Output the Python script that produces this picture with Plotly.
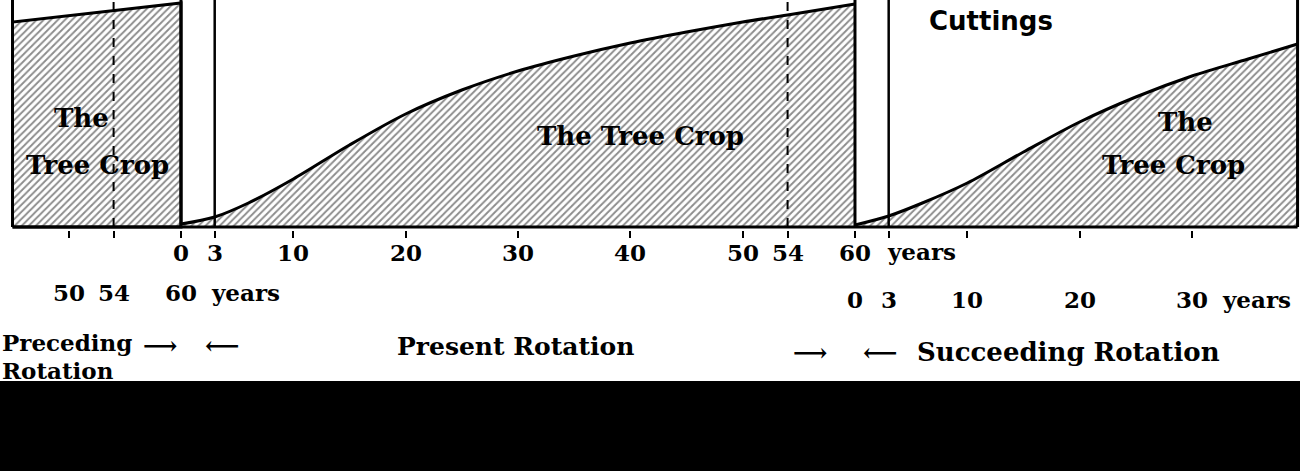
import plotly.graph_objects as go

# ---- data (growing stock, arbitrary units; ages in years) ----
present_ages = [0, 3, 6, 10, 15, 20, 25, 30, 35, 40, 45, 50, 54, 60]
present_stock = [3, 10, 24, 48, 82, 113, 137, 156, 171, 184, 195, 205, 212, 223]

preceding_ages = [45, 60]
preceding_stock = [205, 224]

succeeding_ages = [0, 3, 6, 10, 15, 20, 25, 30, 35, 39.4]
succeeding_stock = [2, 11, 24, 44, 75, 105, 130, 151, 168, 183]

rotation = 60
cut_age = 54          # dashed lines (cuttings)
plant_age = 3         # vertical lines at 3 years

present_ticks = [0, 3, 10, 20, 30, 40, 50, 54, 60]
preceding_ticks = [50, 54, 60]
succeeding_ticks = [0, 3, 10, 20, 30]

W, H = 1300, 471
TOP = 227
FONT = "DejaVu Serif"

def py(p):
    return 1 - p / H

# global x positions (present rotation time axis)
prec_x = [a - rotation for a in preceding_ages]
succ_x = [a + rotation for a in succeeding_ages]

fig = go.Figure()
hatch = dict(shape="/", size=5, solidity=0.38, fgcolor="#1a1a1a", bgcolor="white")
curve_line = dict(color="black", width=3, shape="spline", smoothing=0.9)

# preceding crop block
fig.add_trace(go.Scatter(
    x=[prec_x[0]] + prec_x + [prec_x[-1], prec_x[0]],
    y=[0] + preceding_stock + [0, 0],
    mode="lines", fill="toself", fillcolor="white", fillpattern=hatch,
    line=dict(color="black", width=3), hoverinfo="skip"))

# present rotation
fig.add_trace(go.Scatter(
    x=present_ages, y=present_stock, mode="lines",
    fill="tozeroy", fillcolor="white", fillpattern=hatch,
    line=curve_line, hoverinfo="skip"))

# succeeding rotation
fig.add_trace(go.Scatter(
    x=succ_x, y=succeeding_stock, mode="lines",
    fill="tozeroy", fillcolor="white", fillpattern=hatch,
    line=curve_line, hoverinfo="skip"))

shapes = []
# full-height solid verticals
for xv, w in [(prec_x[0], 3), (0, 3), (plant_age, 2.5), (rotation, 3),
              (rotation + plant_age, 2.5), (succ_x[-1], 3)]:
    shapes.append(dict(type="line", xref="x", yref="y", x0=xv, x1=xv, y0=0, y1=TOP + 2,
                       line=dict(color="black", width=w)))
# dashed cutting lines
for xv in [cut_age - rotation, cut_age]:
    shapes.append(dict(type="line", xref="x", yref="y", x0=xv, x1=xv, y0=0, y1=TOP + 2,
                       line=dict(color="black", width=2, dash="dash")))
# baseline
shapes.append(dict(type="line", xref="x", yref="y", x0=prec_x[0], x1=succ_x[-1], y0=0, y1=0,
                   line=dict(color="black", width=3)))
# black band at bottom
shapes.append(dict(type="rect", xref="paper", yref="paper", x0=0, x1=1, y0=0, y1=py(381),
                   fillcolor="black", line=dict(width=0), layer="above"))

ann = []
def txt(x, y, s, size=23, xanchor="center", xref="x", bold=True, family=FONT, xshift=0):
    ann.append(dict(x=x, y=py(y), xref=xref, yref="paper", text=("<b>%s</b>" % s) if bold else s,
                    showarrow=False, xanchor=xanchor, yanchor="middle", xshift=xshift,
                    font=dict(family=family, size=size, color="black")))

# row 1: present rotation ages
for t in present_ticks:
    txt(t, 252, str(t))
txt(rotation, 251, "years", xanchor="left", xshift=30)
# row 2 left: preceding rotation
for t in preceding_ticks:
    txt(t - rotation, 292, str(t))
txt(0, 292, "years", xanchor="left", xshift=28)
# row 2 right: succeeding rotation
for t in succeeding_ticks:
    txt(t + rotation, 299, str(t))
txt(succeeding_ticks[-1] + rotation, 299, "years", xanchor="left", xshift=28)

# rotation captions
txt(0, 342, "Preceding", size=23, xanchor="left", xref="paper")
txt(0, 370, "Rotation", size=23, xanchor="left", xref="paper")
txt(160 / W, 345, "⟶", size=24, xref="paper")
txt(222 / W, 345, "⟵", size=24, xref="paper")
txt(515 / W, 346, "Present Rotation", size=25, xref="paper")
txt(810 / W, 352, "⟶", size=24, xref="paper")
txt(880 / W, 352, "⟵", size=24, xref="paper")
txt(915 / W, 352, "Succeeding Rotation", size=26, xanchor="left", xref="paper")

# labels in the chart
txt(991 / W, 21, "Cuttings", size=26, xref="paper", family="DejaVu Sans")
txt(81 / W, 118, "The", size=26, xref="paper")
txt(97 / W, 165, "Tree Crop", size=26, xref="paper")
txt(640 / W, 136, "The Tree Crop", size=26, xref="paper")
txt(1185 / W, 122, "The", size=26, xref="paper")
txt(1173 / W, 165, "Tree Crop", size=26, xref="paper")

all_ticks = ([t - rotation for t in preceding_ticks] + present_ticks +
             [t + rotation for t in succeeding_ticks])

x_min = -181 / 11.233
x_max = (W - 181) / 11.233

fig.update_layout(
    width=W, height=H, margin=dict(l=0, r=0, t=0, b=0),
    paper_bgcolor="white", plot_bgcolor="white", showlegend=False,
    shapes=shapes, annotations=ann,
    xaxis=dict(range=[x_min, x_max], showgrid=False, zeroline=False, showline=False,
               ticks="outside", tickvals=all_ticks, ticklen=7, tickwidth=2,
               tickcolor="black", showticklabels=False, fixedrange=True),
    yaxis=dict(range=[-3, TOP], domain=[py(230), 1], showgrid=False, zeroline=False,
               showline=False, showticklabels=False, ticks="", fixedrange=True),
)

fig.write_html("out.html", config={"displayModeBar": False},
               post_script="document.body.style.margin='0px';document.body.style.overflow='hidden';")
